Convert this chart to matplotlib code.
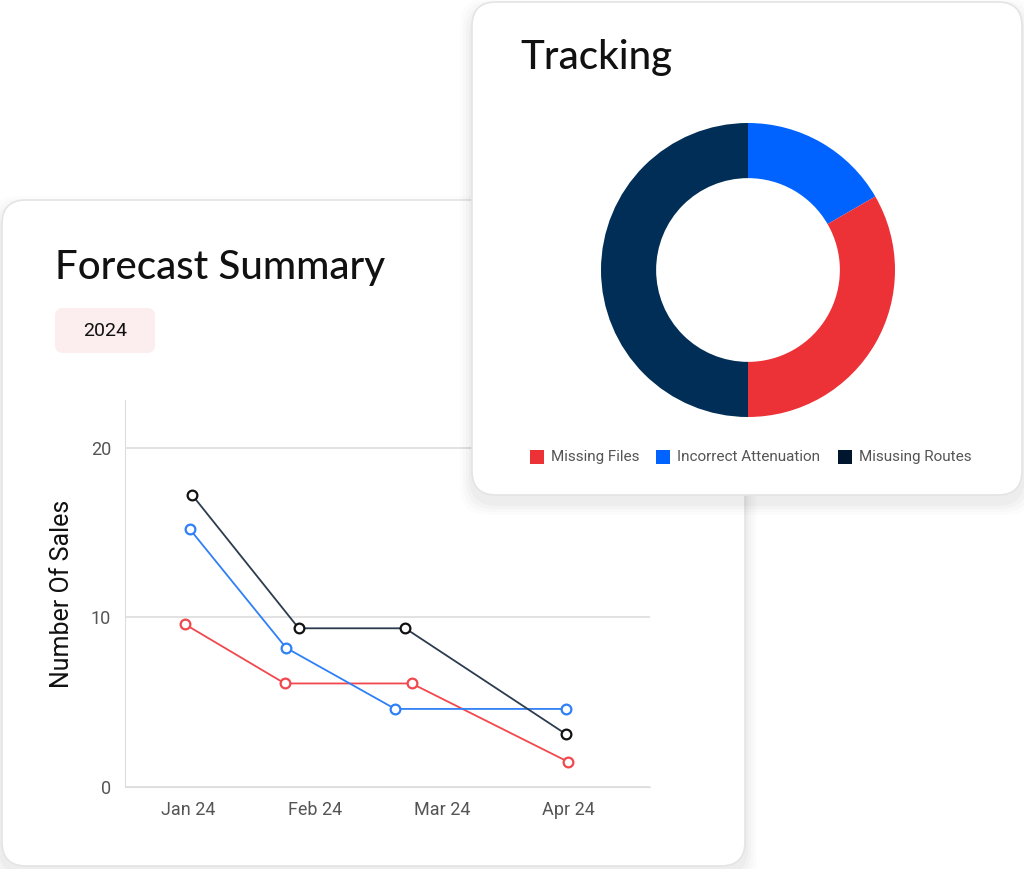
import matplotlib
matplotlib.use("Agg")
import matplotlib.pyplot as plt
from matplotlib.patches import FancyBboxPatch, Rectangle

months = ["Jan 24", "Feb 24", "Mar 24", "Apr 24"]
# x positions (in month units, Jan=0) and values for each series
x_routes = [0.03, 0.87, 1.71, 2.98]
y_routes = [17.2, 9.35, 9.35, 3.1]
x_atten = [0.01, 0.77, 1.63, 2.98]
y_atten = [15.2, 8.2, 4.6, 4.6]
x_files = [-0.03, 0.76, 1.76, 2.99]
y_files = [9.6, 6.1, 6.1, 1.5]
yticks = [0, 10, 20]

pie_labels = ["Missing Files", "Incorrect Attenuation", "Misusing Routes"]
pie_values = [2, 1, 3]
pie_colors = ["#ec3237", "#0062ff", "#002e57"]
legend_colors = ["#ec3237", "#0062ff", "#00152e"]

W, H = 1024, 869
fig = plt.figure(figsize=(W/100, H/100), dpi=100)
fig.patch.set_facecolor("white")

def fx(px): return px / W
def fy(py): return 1 - py / H

def card(ax, x0, y0, x1, y1):
    for i, a in enumerate([0.025, 0.02, 0.015, 0.01]):
        g = 6 + i * 6
        ax.add_patch(FancyBboxPatch((x0 - g/2, y0 - g/2 + 8), x1 - x0 + g, y1 - y0 + g,
                                    boxstyle="round,pad=0,rounding_size=28", fc="black",
                                    ec="none", alpha=a))
    ax.add_patch(FancyBboxPatch((x0, y0), x1 - x0, y1 - y0,
                                boxstyle="round,pad=0,rounding_size=24", fc="white",
                                ec="#e4e4e4", lw=1.2))

bg = fig.add_axes([0, 0, 1, 1], zorder=0)
bg.set_xlim(0, W); bg.set_ylim(H, 0); bg.axis("off")
card(bg, 2, 200, 745, 866)
bg.text(55, 268, "Forecast Summary", fontsize=29, family="Lato", weight="medium",
        va="center", color="#111")
bg.add_patch(FancyBboxPatch((55, 308), 100, 45, boxstyle="round,pad=0,rounding_size=8",
                            fc="#fcedef", ec="none"))
bg.text(105, 331, "2024", fontsize=14, family="Roboto", ha="center", va="center", color="#111")

ax = fig.add_axes([fx(125), fy(787), fx(650) - fx(125), fy(400) - fy(787)], zorder=1)
ax.set_facecolor("none")
ax.set_xlim(-0.5, 3.64)
ax.set_ylim(0, 22.8)
for xs, ys, c, mc in [(x_files, y_files, "#f0484d", "#f0484d"),
                      (x_atten, y_atten, "#2f80f7", "#2f80f7"),
                      (x_routes, y_routes, "#2b3c4f", "#111111")]:
    ax.plot(xs, ys, color=c, lw=1.3, marker="o", ms=7, mfc="white", mec=mc, mew=1.6, zorder=3)
ax.set_yticks(yticks)
ax.set_xticks(range(len(months)))
ax.set_xticklabels(months)
ax.grid(axis="y", color="#dddddd", lw=1.2)
ax.tick_params(length=0, labelsize=13, colors="#555", pad=10)
for l in ax.get_xticklabels() + ax.get_yticklabels():
    l.set_family("Roboto")
for s in ["top", "right"]:
    ax.spines[s].set_visible(False)
ax.spines["left"].set_color("#dddddd")
ax.spines["bottom"].set_color("#dddddd")
ax.set_ylabel("Number Of Sales", fontsize=18, family="Roboto", color="#111", labelpad=12)

ov = fig.add_axes([0, 0, 1, 1], zorder=2)
ov.set_facecolor("none")
ov.set_xlim(0, W); ov.set_ylim(H, 0); ov.axis("off")
card(ov, 472, 2, 1022, 495)
ov.text(520, 58, "Tracking", fontsize=29, family="Lato", weight="medium",
        va="center", color="#111")
lx = [530, 656, 838]
for x, lab, c in zip(lx, pie_labels, legend_colors):
    ov.add_patch(Rectangle((x, 450), 14, 14, fc=c, ec="none"))
    ov.text(x + 21, 457, lab, fontsize=11, family="Roboto", va="center", color="#555")

r = 147
pax = fig.add_axes([fx(748 - r), fy(270 + r), 2 * r / W, 2 * r / H], zorder=3)
order = [1, 0, 2]
pax.pie([pie_values[i] for i in order], colors=[pie_colors[i] for i in order],
        startangle=90, counterclock=False, radius=1,
        wedgeprops=dict(width=0.375, edgecolor="none"))
pax.set_xlim(-1, 1); pax.set_ylim(-1, 1)
pax.set_aspect("equal")

fig.savefig("out.png", dpi=100, facecolor="white")
